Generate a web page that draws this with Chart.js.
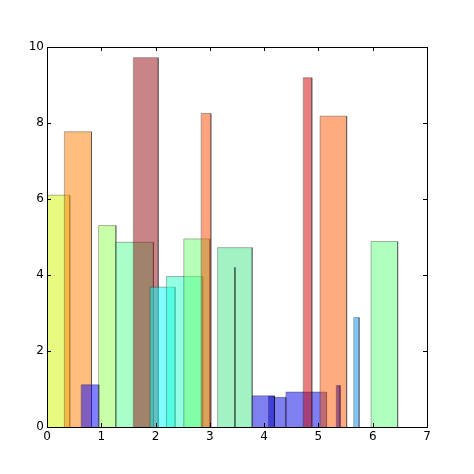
<!DOCTYPE html>
<html>
<head>
<meta charset="utf-8">
<script src="https://cdn.jsdelivr.net/npm/chart.js@4/dist/chart.umd.min.js"></script>
<style>
  html, body { margin: 0; padding: 0; background: #fff; }
  #wrap { width: 474px; height: 474px; }
</style>
</head>
<body>
<div id="wrap"><canvas id="rects"></canvas></div>
<script>
// rectangles: left edge, width, height (data units)
var lefts   = [0.00, 0.32, 0.63, 0.95, 1.27, 1.59, 1.90, 2.20, 2.52, 2.84, 3.14, 3.455, 3.78, 4.08, 4.19, 4.40, 4.72, 5.03, 5.33, 5.65, 5.97];
var widths  = [0.42, 0.50, 0.33, 0.32, 0.69, 0.46, 0.46, 0.67, 0.48, 0.18, 0.64, 0.01, 0.41, 0.11, 0.21, 0.75, 0.16, 0.49, 0.07, 0.10, 0.49];
var heights = [6.10, 7.77, 1.11, 5.30, 4.86, 9.72, 3.68, 3.96, 4.95, 8.25, 4.72, 4.20, 0.82, 0.81, 0.78, 0.92, 9.19, 8.18, 1.09, 2.88, 4.88];
var palette = [
  "210,245,0", "255,125,0", "0,0,255", "150,255,85", "85,255,145", "150,10,15",
  "0,255,255", "40,255,200", "110,255,110", "255,70,0", "70,230,140", "0,80,30",
  "0,0,230", "0,0,200", "0,0,230", "0,0,230", "210,0,0", "255,85,0",
  "60,0,140", "0,145,255", "100,255,125"
];
var xTicks = [0, 1, 2, 3, 4, 5, 6, 7];
var yTicks = [0, 2, 4, 6, 8, 10];

(function () {
  "use strict";
  Chart.defaults.font.family = "'DejaVu Sans', sans-serif";
  Chart.defaults.font.size = 12;
  Chart.defaults.color = "#000";

  var datasets = lefts.map(function (x0, i) {
    var x1 = x0 + widths[i], h = heights[i];
    return {
      data: [{ x: x0, y: 0 }, { x: x0, y: h }, { x: x1, y: h }, { x: x1, y: 0 }],
      showLine: true,
      fill: "origin",
      backgroundColor: "rgba(" + palette[i] + ",0.5)",
      borderColor: "rgba(0,0,0,0.3)",
      borderWidth: 1,
      pointRadius: 0,
      tension: 0,
      order: -i
    };
  });

  // matplotlib-like frame with inward ticks on all sides
  var frame = {
    id: "frame",
    afterDraw: function (chart) {
      var c = chart.ctx, a = chart.chartArea;
      var sx = chart.scales.x, sy = chart.scales.y;
      c.save();
      c.strokeStyle = "#000";
      c.lineWidth = 1;
      c.strokeRect(a.left + 0.5, a.top + 0.5, a.right - a.left, a.bottom - a.top);
      c.beginPath();
      xTicks.forEach(function (v) {
        var px = Math.round(sx.getPixelForValue(v)) + 0.5;
        c.moveTo(px, a.bottom); c.lineTo(px, a.bottom - 4);
        c.moveTo(px, a.top); c.lineTo(px, a.top + 4);
      });
      yTicks.forEach(function (v) {
        var py = Math.round(sy.getPixelForValue(v)) + 0.5;
        c.moveTo(a.left, py); c.lineTo(a.left + 4, py);
        c.moveTo(a.right, py); c.lineTo(a.right - 4, py);
      });
      c.stroke();
      c.restore();
    }
  };

  new Chart(document.getElementById("rects").getContext("2d"), {
    type: "scatter",
    data: { datasets: datasets },
    options: {
      responsive: true,
      maintainAspectRatio: false,
      animation: false,
      layout: { padding: { top: 47, right: 47, left: 0, bottom: 0 } },
      plugins: { legend: { display: false }, tooltip: { enabled: false } },
      scales: {
        x: {
          type: "linear", min: 0, max: 7,
          grid: { display: false, tickLength: 0 },
          border: { display: false },
          ticks: { stepSize: 1, padding: 3, maxRotation: 0 },
          afterFit: function (s) { s.height = 47; }
        },
        y: {
          type: "linear", min: 0, max: 10,
          grid: { display: false, tickLength: 0 },
          border: { display: false },
          ticks: { stepSize: 2, padding: 3 },
          afterFit: function (s) { s.width = 47; }
        }
      }
    },
    plugins: [frame]
  });
})();
</script>
</body>
</html>
